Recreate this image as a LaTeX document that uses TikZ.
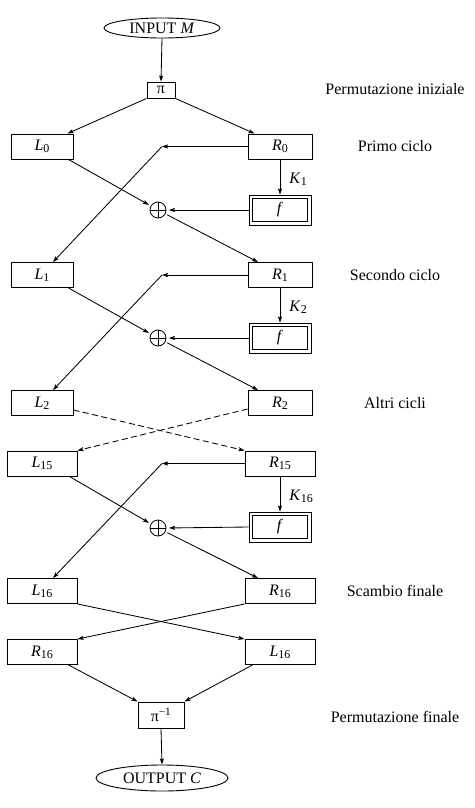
\documentclass[tikz,border=0pt]{standalone}
\usepackage{fontspec}
\setmainfont{Liberation Serif}
\usetikzlibrary{arrows.meta,shapes.geometric}
\newcommand\vsub[2]{\textit{#1}\raisebox{-0.3ex}{\fontsize{12}{12}\selectfont #2}}
\begin{document}
\begin{tikzpicture}[x=1pt,y=-1pt,font=\fontsize{16}{18}\selectfont,
  box/.style={draw,line width=0.9pt,minimum height=25pt,inner sep=0pt},
  wa/.style={minimum width=62pt},
  wb/.style={minimum width=64pt},
  wc/.style={minimum width=70pt},
  fbox/.style={draw,line width=0.9pt,minimum width=62pt,minimum height=30pt,inner sep=0pt,
    path picture={\draw[line width=0.9pt] ([shift={(3.2pt,-3.2pt)}]path picture bounding box.north west) rectangle ([shift={(-3.2pt,3.2pt)}]path picture bounding box.south east);}},
  arr/.style={-{Stealth[length=6pt,width=4pt,inset=1pt]},line width=0.85pt},
  dsh/.style={arr,dash pattern=on 6pt off 3.5pt},
  xor/.style={circle,draw,line width=0.8pt,minimum size=16pt,inner sep=0pt,
    path picture={\draw[line width=0.8pt] (path picture bounding box.north) -- (path picture bounding box.south)
      (path picture bounding box.west) -- (path picture bounding box.east);}},
  klab/.style={right,inner sep=0pt,xshift=9pt,yshift=-2pt},
  lab/.style={inner sep=0pt}]
\useasboundingbox (0,0) rectangle (474,808);
% nodes
\node[ellipse,draw,line width=0.9pt,minimum width=116pt,minimum height=20pt,inner sep=0pt] (in) at (162,28) {INPUT \textit{M}};
\node[box,minimum width=28pt,minimum height=16pt] (pi) at (161,90) {π};
\node[box,wa] (L0) at (42,146.5) {\vsub L0};
\node[box,wb] (R0) at (280,146.5) {\vsub R0};
\coordinate (c1) at (162,146.5);
\node[xor] (x1) at (158,210) {};
\node[fbox] (f1) at (280,210) {\textit{f}};
\node[box,wa] (L1) at (42,275) {\vsub L1};
\node[box,wb] (R1) at (280,275) {\vsub R1};
\coordinate (c2) at (162,275);
\node[xor] (x2) at (158,338) {};
\node[fbox] (f2) at (280,338) {\textit{f}};
\node[box,wa] (L2) at (42,403) {\vsub L2};
\node[box,wb] (R2) at (280,403) {\vsub R2};
\node[box,wc] (L15) at (42,463.5) {\vsub L{15}};
\node[box,wc] (R15) at (280,463.5) {\vsub R{15}};
\coordinate (c3) at (162,463.5);
\node[xor] (x3) at (158,528) {};
\node[fbox] (f3) at (280,527) {\textit{f}};
\node[box,wc] (L16) at (42,591) {\vsub L{16}};
\node[box,wc] (R16) at (280,591) {\vsub R{16}};
\node[box,wc] (R16b) at (42,652) {\vsub R{16}};
\node[box,wc] (L16b) at (280,652) {\vsub L{16}};
\node[box,minimum width=46pt,minimum height=26pt] (pinv) at (161,715) {π\textsuperscript{−1}};
\node[ellipse,draw,line width=0.9pt,minimum width=132pt,minimum height=26pt,inner sep=0pt] (out) at (162,778) {OUTPUT \textit{C}};
% right labels
\node[lab] (t1) at (395,89) {Permutazione iniziale};
\node[lab] (t2) at (395,146) {Primo ciclo};
\node[lab] (t3) at (395,275) {Secondo ciclo};
\node[lab] (t4) at (395,403) {Altri cicli};
\node[lab] (t5) at (395,591) {Scambio finale};
\node[lab] (t6) at (395,717) {Permutazione finale};
% connectors
\draw[arr] (in.south) -- (pi.north);
\draw[arr] (pi.south west) -- ([xshift=-6pt]L0.north east);
\draw[arr] (pi.south east) -- ([xshift=7pt]R0.north west);
% round 1
\draw[arr] (R0.west) -- (c1);
\draw[arr] (c1) -- ([xshift=11pt]L1.north);
\draw[arr,shorten >=2pt] ([xshift=-5pt]L0.south east) -- (x1);
\draw[arr] (R0.south) -- node[klab]{\vsub K1} (f1.north);
\draw[arr,shorten >=2.5pt] (f1.west) -- (x1.east);
\draw[arr,shorten <=2pt] (x1) -- ([xshift=-22pt]R1.north);
% round 2
\draw[arr] (R1.west) -- (c2);
\draw[arr] (c2) -- ([xshift=11pt]L2.north);
\draw[arr,shorten >=2pt] ([xshift=-5pt]L1.south east) -- (x2);
\draw[arr] (R1.south) -- node[klab]{\vsub K2} (f2.north);
\draw[arr,shorten >=2.5pt] (f2.west) -- (x2.east);
\draw[arr,shorten <=2pt] (x2) -- ([xshift=-22pt]R2.north);
% other rounds
\draw[dsh] ([yshift=-7pt]L2.east) -- (R15.north west);
\draw[dsh] ([yshift=-6pt]R2.west) -- (L15.north east);
% round 16
\draw[arr] (R15.west) -- (c3);
\draw[arr] (c3) -- ([xshift=11pt]L16.north);
\draw[arr,shorten >=2pt] ([xshift=-8pt]L15.south east) -- (x3);
\draw[arr] (R15.south) -- node[klab]{\vsub K{16}} (f3.north);
\draw[arr,shorten >=2.5pt] (f3.west) -- (x3.east);
\draw[arr,shorten <=2pt] (x3) -- ([xshift=-22pt]R16.north);
% final swap
\draw[arr] (L16.south east) -- (L16b.north west);
\draw[arr] (R16.south west) -- (R16b.north east);
\draw[arr] ([xshift=-9pt]R16b.south east) -- (pinv.north west);
\draw[arr] ([xshift=8pt]L16b.south west) -- (pinv.north east);
\draw[arr] (pinv.south) -- (out.north);
\end{tikzpicture}
\end{document}
